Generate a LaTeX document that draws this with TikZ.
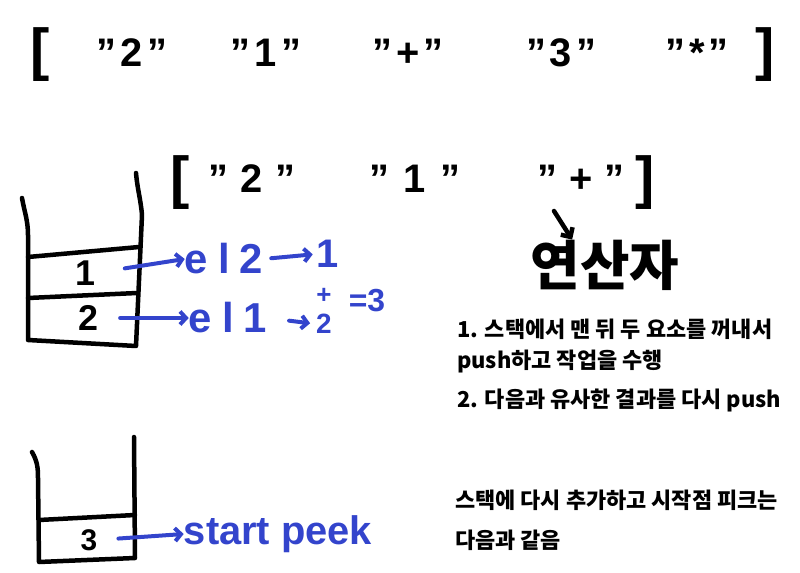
\documentclass[tikz,border=0pt]{standalone}
\usepackage{fontspec}
\usetikzlibrary{arrows.meta}
\setmainfont{Liberation Sans}
\newfontfamily\krfont{Noto Sans CJK KR}
\definecolor{penblue}{RGB}{51,68,204}
\newcommand{\tok}[2][4bp]{"\kern#1#2\kern#1"}
\newcommand{\spread}[3]{#1\kern10bp#2\kern10bp#3}

\begin{document}
\begin{tikzpicture}[
  x = 1bp, y = -1bp,
  every node/.style = {inner sep = 0pt},
  handtext/.style = {font = \bfseries\fontsize{40}{40}\selectfont, anchor = base},
  bracket/.style = {font = \bfseries\fontsize{58}{58}\selectfont, anchor = base},
  celltext/.style = {font = \bfseries\fontsize{36}{36}\selectfont},
  bluetext/.style = {text = penblue, font = \bfseries\fontsize{42}{42}\selectfont},
  typed/.style = {anchor = west, font = \krfont\bfseries\fontsize{22}{22}\selectfont},
  stackline/.style = {line width = 4.5bp, line cap = round, line join = round},
  inkarrow/.style = {draw = penblue, line width = 4bp, line cap = round,
                     -{Straight Barb[length = 6bp, width = 13bp]}},
  ]
  \useasboundingbox (0,0) rectangle (800,573);

  % whole expression
  \node[bracket] (lb1) at (40,70) {[};
  \node[handtext] (a1) at (132,67) {\tok{2}};
  \node[handtext] (a2) at (266,67) {\tok{1}};
  \node[handtext] (a3) at (408,67) {\tok{+}};
  \node[handtext] (a4) at (561,67) {\tok{3}};
  \node[handtext] (a5) at (697,67) {\tok{*}};
  \node[bracket] (rb1) at (765,70) {]};

  % part already read
  \node[bracket] (lb2) at (180,198) {[};
  \node[handtext] (b1) at (252,193) {\tok[12bp]{2}};
  \node[handtext] (b2) at (415,193) {\tok[14bp]{1}};
  \node[handtext] (b3) at (581,193) {\tok[12bp]{+}};
  \node[bracket] (rb2) at (645,198) {]};

  \node[font = \krfont\bfseries\fontsize{54}{54}\selectfont] (op) at (605,265) {연산자};
  \draw[stackline, -{Straight Barb[length = 7bp, width = 14bp]}]
    ([shift = {(-27,18)}]b3.base) -- ([xshift = -33]op.north);

  % first stack
  \draw[stackline] (22,198) to[out = -80, in = 90] (28,235) -- (28,340)
    -- (136,346) -- (142,215) to[out = 95, in = -85] (136,173);
  \draw[stackline] (28,257) -- (139,247);
  \draw[stackline] (28,298) -- (137,293);
  \node[celltext] (v1) at (85,273) {1};
  \node[celltext] (v2) at (88,318) {2};

  \node[bluetext] (el2) at (224,259) {\spread{e}{l}{2}};
  \node[bluetext] (el1) at (228,318) {\spread{e}{l}{1}};
  \node[bluetext, font = \bfseries\fontsize{40}{40}\selectfont] (one) at (328,254) {1};
  \node[bluetext, font = \bfseries\fontsize{26}{26}\selectfont] (plus) at (324,296) {+};
  \node[bluetext, font = \bfseries\fontsize{28}{28}\selectfont] (two) at (324,324) {2};
  \node[bluetext, font = \bfseries\fontsize{32}{32}\selectfont] (eq) at (367,301) {=3};

  \draw[inkarrow, shorten <= 30bp] (v1.east) -- (el2.west);
  \draw[inkarrow, shorten <= 22bp] (v2.east) -- (el1.west);
  \draw[inkarrow, shorten <= 8bp, shorten >= 4bp] (el2.east) -- (one.west);
  \draw[inkarrow, shorten <= 22bp, shorten >= 6bp] (el1.east) -- (two.west);

  % steps
  \node[typed] (s1) at (457,329) {1. 스택에서 맨 뒤 두 요소를 꺼내서};
  \node[typed] (s2) at (457,362) {push하고 작업을 수행};
  \node[typed] (s3) at (457,401) {2. 다음과 유사한 결과를 다시 push};

  % second stack
  \draw[stackline] (32,452) to[out = -60, in = 90] (38,478) -- (39,562)
    -- (135,558) -- (134,437);
  \draw[stackline] (39,520) -- (135,515);
  \node[celltext, font = \bfseries\fontsize{30}{30}\selectfont] (v3) at (89,540) {3};

  \node[bluetext, font = \bfseries\fontsize{40}{40}\selectfont] (peek) at (278,534) {start peek};
  \draw[inkarrow, shorten <= 21bp] (v3.east) -- (peek.west);

  \node[typed] (r1) at (455,500) {스택에 다시 추가하고 시작점 피크는};
  \node[typed] (r2) at (455,540) {다음과 같음};
\end{tikzpicture}
\end{document}
